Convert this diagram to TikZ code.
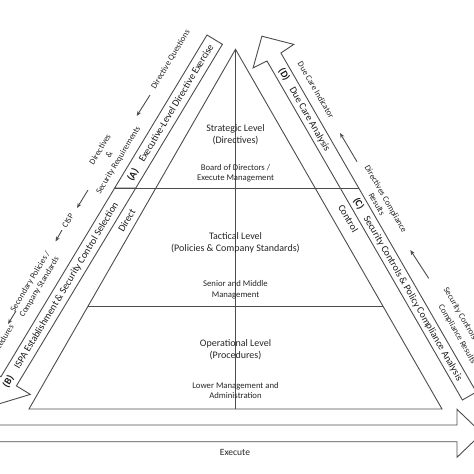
\documentclass[tikz,border=0pt]{standalone}
\usepackage{fontspec}
\setmainfont{Carlito}
\usetikzlibrary{arrows.meta}
\begin{document}
\begin{tikzpicture}[x=1pt,y=-1pt,
  line/.style={draw=black!70, line width=0.9pt, line join=miter},
  sarrow/.style={draw=black!70, line width=0.9pt, -{Stealth[length=5pt,width=4pt]}},
  lvl/.style={inner sep=0pt, align=center, text=black!85, font=\fontsize{10}{12.4}\selectfont},
  sub/.style={inner sep=0pt, align=center, text=black!85, font=\fontsize{8.7}{10.5}\selectfont},
  outl/.style={inner sep=0pt, align=center, text=black!85, font=\fontsize{8.5}{10.5}\selectfont, rotate=58.9},
  outr/.style={inner sep=0pt, align=center, text=black!85, font=\fontsize{8.5}{10.5}\selectfont, rotate=-60},
  bandl/.style={inner sep=0pt, text=black!90, font=\fontsize{10}{12}\selectfont, rotate=58.9},
  bandr/.style={inner sep=0pt, text=black!90, font=\fontsize{10}{12}\selectfont, rotate=-60}]
\useasboundingbox (0,0) rectangle (474,474);
\clip (0,0) rectangle (474,474);

% pyramid
\coordinate (apex) at (235.5,49.3);
\coordinate (bl) at (29,409);
\coordinate (br) at (442,409);
\coordinate (bm) at (235.5,409);
\draw[line] (apex) -- (bl) -- (br) -- cycle;
\draw[line] (apex) -- (bm);
\coordinate (t1l) at (114.7,188);
\coordinate (t1r) at (358.7,188);
\coordinate (t2l) at (87.8,306.5);
\coordinate (t2r) at (383.2,306.5);
\draw[line] (t1l) -- (t1r);
\draw[line] (t2l) -- (t2r);

% left band: box A and arrow B
\coordinate (a1) at (207,35);
\coordinate (a2) at (222.4,44.3);
\coordinate (ai) at (135.8,188);
\coordinate (bos) at (0.96,376.7);
\coordinate (bob) at (-13.0,368.3);
\coordinate (btip) at (-5.8,405.3);
\coordinate (bib) at (30.3,394.4);
\coordinate (bis) at (16.4,385.9);
\draw[line] (a1) -- (a2) -- (ai) -- (t1l) -- cycle;
\draw[line] (t1l) -- (bos) -- (bob) -- (btip) -- (bib) -- (bis) -- (ai);

% right band: arrow D/C
\coordinate (dtip) at (261.9,36.2);
\coordinate (dob) at (293.8,44.4);
\coordinate (dos) at (280.9,53.0);
\coordinate (cbo) at (476.3,392.0);
\coordinate (cbi) at (462.4,400.0);
\coordinate (dis) at (267,61);
\coordinate (dib) at (253.1,67.9);
\draw[line] (dtip) -- (dob) -- (dos) -- (cbo) -- (cbi) -- (dis) -- (dib) -- cycle;

% execute arrow
\coordinate (e1) at (-5,425);
\coordinate (e2) at (457,425);
\coordinate (e3) at (457,409.3);
\coordinate (etip) at (482,433.3);
\coordinate (e4) at (457,457.3);
\coordinate (e5) at (457,441.7);
\coordinate (e6) at (-5,441.7);
\draw[line] (e1) -- (e2) -- (e3) -- (etip) -- (e4) -- (e5) -- (e6);
\node[sub, font=\fontsize{9.5}{11}\selectfont] (exec) at (235,452) {Execute};

% pyramid texts
\node[lvl] (strat) at (235.5,134.5) {Strategic Level\\(Directives)};
\node[sub] (board) at (235.5,173.3) {Board of Directors /\\Execute Management};
\node[lvl] (tact) at (235.5,243) {Tactical Level\\(Policies \& Company Standards)};
\node[sub] (senior) at (235.5,289.7) {Senior and Middle\\Management};
\node[lvl] (oper) at (235.5,349.7) {Operational Level\\(Procedures)};
\node[sub] (lower) at (235.5,390.7) {Lower Management and\\Administration};

% band texts
\node[bandl] (bA) at (170.6,112.8) {\textbf{(A)}\hspace{10pt}Executive-Level Directive Exercise};
\node[bandl] (bB) at (60.7,295.1) {\textbf{(B)}\hspace{10pt}ISPA Establishment \& Security Control Selection};
\node[bandr] (bD) at (304.4,109.9) {\textbf{(D)}\hspace{9pt}Due Care Analysis};
\node[bandr] (bC) at (407.9,289.4) {\textbf{(C)}\hspace{9pt}Security Controls \& Policy Compliance Analysis};
\node[bandl] (direct) at (126.7,220.8) {Direct};
\node[bandr] (control) at (348.3,218.3) {Control};

% left outer labels
\node[outl] (dq) at (170.7,59.5) {Directive Questions};
\node[outl] (dsr) at (109.5,155) {Directives\\\&\\Security Requirements};
\node[outl] (cisp) at (68,221) {CISP};
\node[outl] (spcs) at (35,284.5) {Secondary Policies /\\Company Standards};
\node[outl] (proc) at (1.6,341.7) {Procedures};
\coordinate (la1s) at (150,95);   \coordinate (la1e) at (136.7,116);
\coordinate (la2s) at (88,190);   \coordinate (la2e) at (77,208);
\coordinate (la3s) at (62,230);   \coordinate (la3e) at (55.5,241.5);
\coordinate (la4s) at (16,311);   \coordinate (la4e) at (8,324);
\draw[sarrow] (la1s) -- (la1e);
\draw[sarrow] (la2s) -- (la2e);
\draw[sarrow] (la3s) -- (la3e);
\draw[sarrow] (la4s) -- (la4e);

% right outer labels
\node[outr] (dci) at (316,90) {Due Care Indicator};
\node[outr] (dcr) at (381.5,201.6) {Directives Compliance\\Results};
\node[outr, anchor=west] (scc1) at (445.3,288.3) {Security Controls};
\node[outr, anchor=west] (scc2) at (440.3,305) {Compliance Results};
\coordinate (ra1s) at (357,161.7); \coordinate (ra1e) at (340,133);
\coordinate (ra2s) at (428.7,278.3); \coordinate (ra2e) at (410.3,250);
\draw[sarrow] (ra1s) -- (ra1e);
\draw[sarrow] (ra2s) -- (ra2e);
\end{tikzpicture}
\end{document}
